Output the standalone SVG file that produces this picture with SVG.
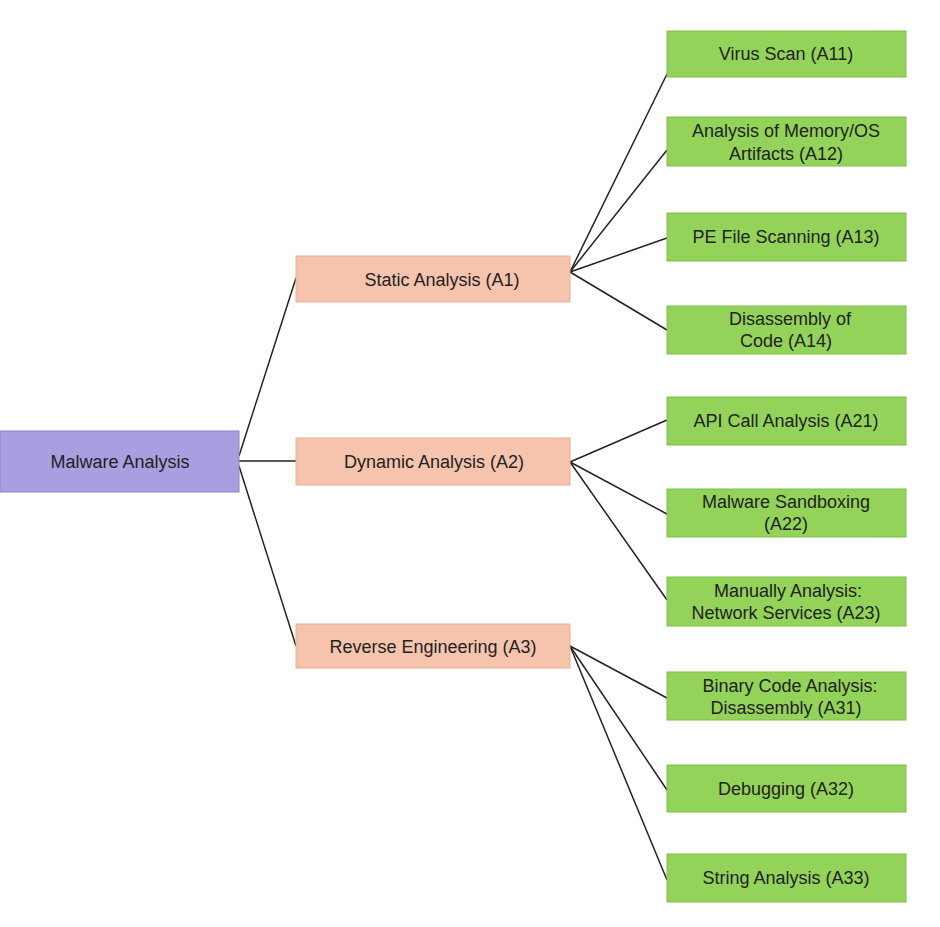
<svg xmlns="http://www.w3.org/2000/svg" width="940" height="927" viewBox="0 0 940 927">
<style>
.root{fill:#a89ee0;stroke:#8f86c4;stroke-width:1}
.mid{fill:#f6c4ac;stroke:#e3ad96;stroke-width:1}
.leaf{fill:#93d35a;stroke:#7fbf48;stroke-width:1}
text{font-family:"Liberation Sans",Arial,sans-serif;font-size:18px;fill:#222;text-anchor:middle}
.c line{stroke:#222;stroke-width:1.5}
</style>
<rect width="940" height="927" fill="#fff"/>
<g class="c">
<line x1="239" y1="461" x2="296" y2="461"/>
<line x1="239" y1="456" x2="296" y2="278"/>
<line x1="239" y1="466" x2="296" y2="646"/>
<line x1="570" y1="272" x2="667" y2="74"/>
<line x1="570" y1="272" x2="667" y2="150"/>
<line x1="570" y1="272" x2="667" y2="238"/>
<line x1="570" y1="272" x2="667" y2="330"/>
<line x1="570" y1="462" x2="667" y2="420"/>
<line x1="570" y1="462" x2="667" y2="514"/>
<line x1="570" y1="462" x2="667" y2="600"/>
<line x1="570" y1="646" x2="667" y2="698"/>
<line x1="570" y1="646" x2="667" y2="790"/>
<line x1="570" y1="646" x2="667" y2="880"/>
</g>
<g id="root"><rect class="root" x="0" y="431" width="239" height="61"/><text x="120" y="468">Malware Analysis</text></g>
<g id="a1"><rect class="mid" x="296" y="256" width="274" height="46"/><text x="442" y="286">Static Analysis (A1)</text></g>
<g id="a2"><rect class="mid" x="296" y="438" width="274" height="47"/><text x="434" y="468">Dynamic Analysis (A2)</text></g>
<g id="a3"><rect class="mid" x="296" y="624" width="274" height="44"/><text x="433" y="653">Reverse Engineering (A3)</text></g>
<g id="a11"><rect class="leaf" x="667" y="31" width="239" height="46"/><text x="786" y="60">Virus Scan (A11)</text></g>
<g id="a12"><rect class="leaf" x="667" y="117" width="239" height="49"/><text x="786" y="137">Analysis of Memory/OS</text><text x="786" y="160">Artifacts (A12)</text></g>
<g id="a13"><rect class="leaf" x="667" y="213" width="239" height="48"/><text x="786" y="243">PE File Scanning (A13)</text></g>
<g id="a14"><rect class="leaf" x="667" y="306" width="239" height="48"/><text x="790" y="325">Disassembly of</text><text x="786" y="347">Code (A14)</text></g>
<g id="a21"><rect class="leaf" x="667" y="397" width="239" height="48"/><text x="786" y="427">API Call Analysis (A21)</text></g>
<g id="a22"><rect class="leaf" x="667" y="489" width="239" height="48"/><text x="786" y="508">Malware Sandboxing</text><text x="786" y="530">(A22)</text></g>
<g id="a23"><rect class="leaf" x="667" y="577" width="239" height="49"/><text x="788" y="597">Manually Analysis:</text><text x="786" y="619">Network Services (A23)</text></g>
<g id="a31"><rect class="leaf" x="667" y="672" width="239" height="48"/><text x="790" y="692">Binary Code Analysis:</text><text x="786" y="714">Disassembly (A31)</text></g>
<g id="a32"><rect class="leaf" x="667" y="765" width="239" height="47"/><text x="786" y="795">Debugging (A32)</text></g>
<g id="a33"><rect class="leaf" x="667" y="854" width="239" height="48"/><text x="786" y="884">String Analysis (A33)</text></g>
</svg>
